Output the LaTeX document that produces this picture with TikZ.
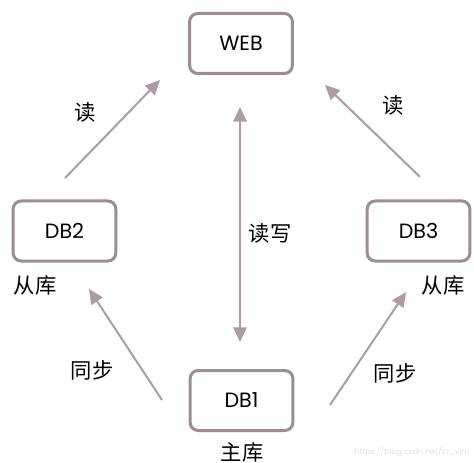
\documentclass[tikz,border=0pt]{standalone}
\usepackage{fontspec}
\setmainfont{Poppins}
\newfontfamily\cjk{Noto Sans CJK SC}
\usetikzlibrary{arrows.meta}

\definecolor{boxline}{RGB}{155,140,150}
\definecolor{arrline}{RGB}{170,155,165}
\tikzset{every picture/.style={line width=0.75pt}}
\tikzset{
	dbbox/.style={draw=boxline, line width=2.25pt, rounded corners=6pt, minimum width=77pt, minimum height=45pt, inner sep=0pt, font=\fontsize{15.5}{17}\selectfont},
	arr/.style={draw=arrline, line width=1.5pt, -{Triangle[length=11pt,width=10pt]}},
	lbl/.style={inner sep=0.75pt, font=\cjk\fontsize{16}{18}\selectfont}
}

\begin{document}
\begin{tikzpicture}[x=0.75pt,y=0.75pt,yscale=-1,xscale=1]
		\useasboundingbox (0,0) rectangle (474,463);
		
		%Shape: Rounded Rect
		\node (web) at (241,43.5) [dbbox] {WEB};
		\node (db2) at (64.5,231) [dbbox] {DB2};
		\node (db3) at (418.5,231) [dbbox] {DB3};
		\node (db1) at (241.5,400.5) [dbbox] {DB1};
		
		%Arrow ends
		\coordinate (a2s) at (65,178);   \coordinate (a2e) at (160,80);
		\coordinate (a3s) at (420,177);  \coordinate (a3e) at (325,85);
		\coordinate (rws) at (240,342);  \coordinate (rwe) at (240,107);
		\coordinate (s2s) at (162,400);  \coordinate (s2e) at (89,289);
		\coordinate (s3s) at (330,405);  \coordinate (s3e) at (406,292);
		
		%Straight Lines
		\draw [arr] (a2s) -- (a2e) ;
		\draw [arr] (a3s) -- (a3e) ;
		\draw [arr, {Triangle[length=11pt,width=10pt]}-{Triangle[length=11pt,width=10pt]}] (rws) -- (rwe) ;
		\draw [arr] (s2s) -- (s2e) ;
		\draw [arr] (s3s) -- (s3e) ;
		
		% Text Node
		\node (r2) at (85,112) [lbl] {读};
		% Text Node
		\node (r3) at (393,105) [lbl] {读};
		% Text Node
		\node (rw) at (270,233) [lbl] {读写};
		% Text Node
		\node (sy2) at (92,370) [lbl] {同步};
		% Text Node
		\node (sy3) at (395,373) [lbl] {同步};
		% Text Node
		\node (slv2) at (35,285) [lbl] {从库};
		% Text Node
		\node (slv3) at (443,285) [lbl] {从库};
		% Text Node
		\node (mst) at (242,452) [lbl] {主库};
		% Text Node
		\node (wm) at (412,452) [inner sep=0pt, font=\fontsize{6}{7}\selectfont, color={rgb, 255:red, 225; green, 225; blue, 225 }] {https://blog.csdn.net/zz\_vim};
		
\end{tikzpicture}
\end{document}
